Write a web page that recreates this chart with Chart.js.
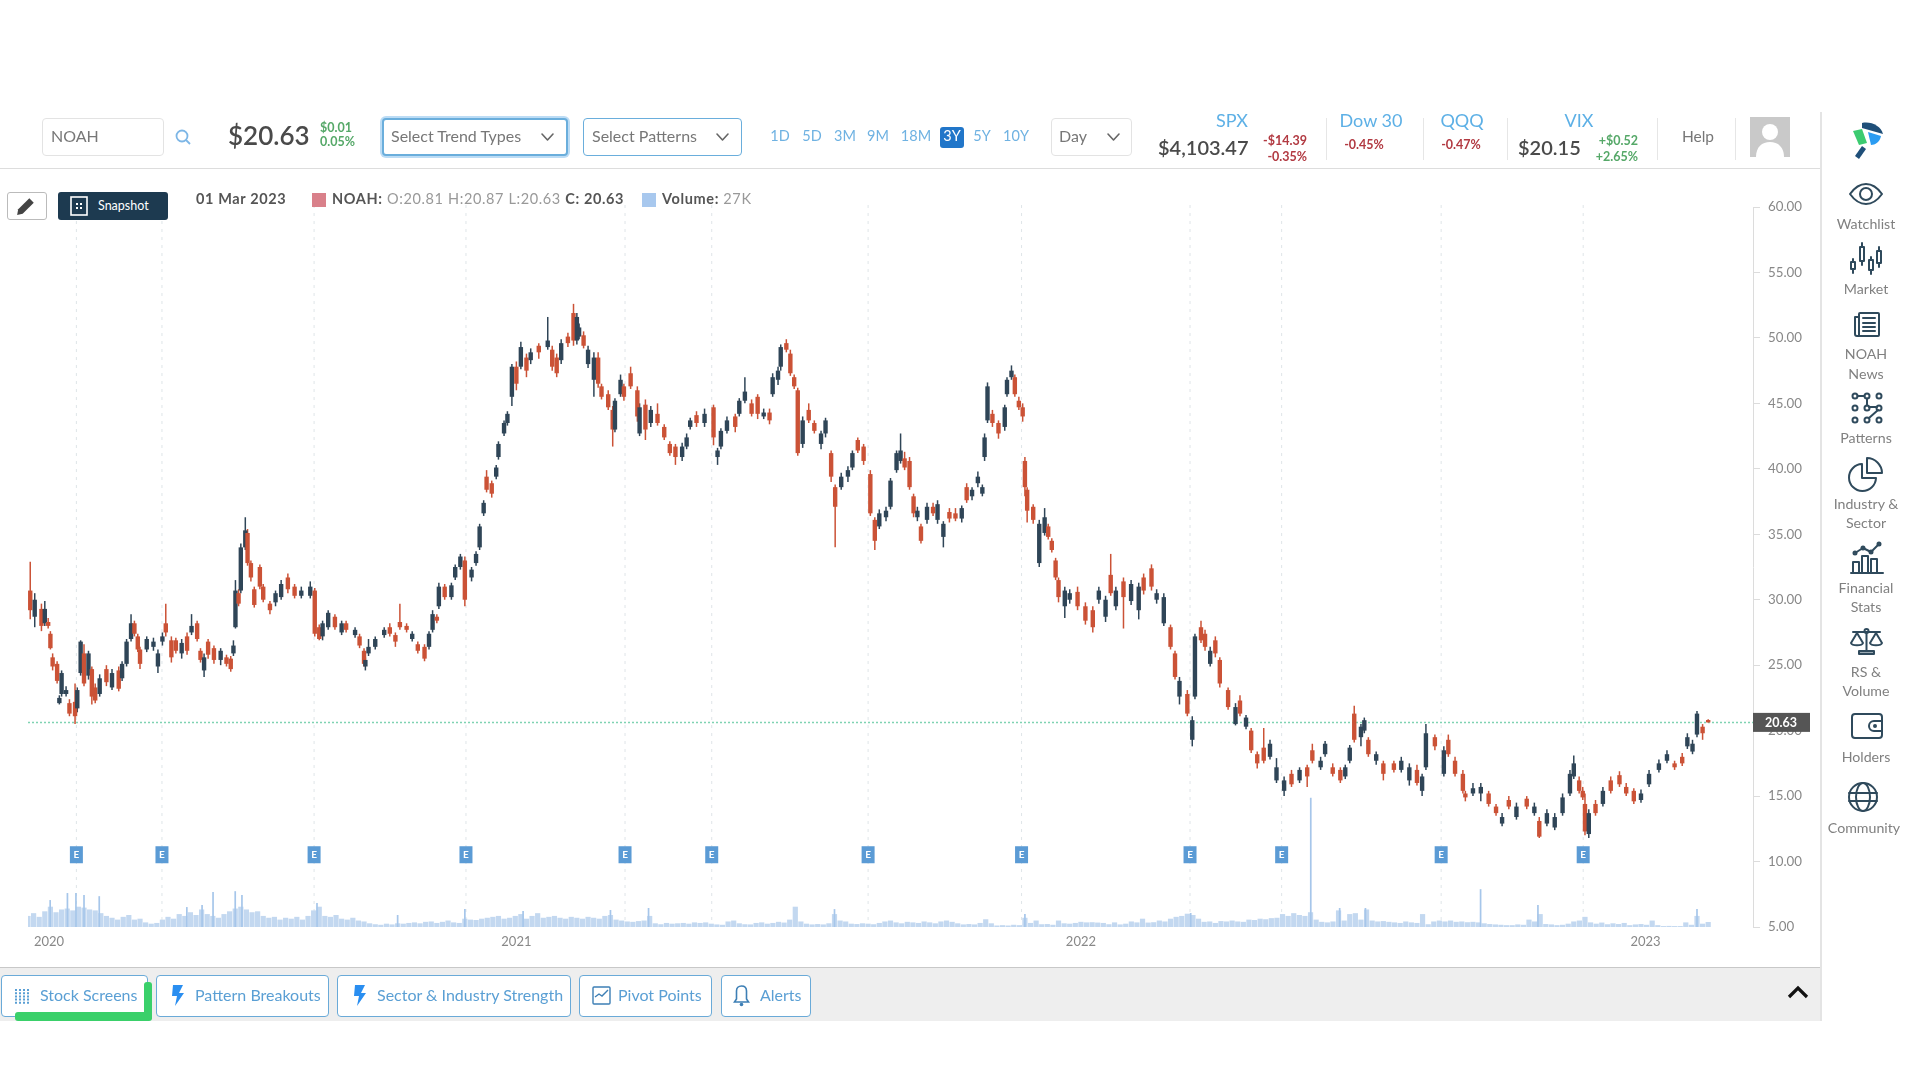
<!DOCTYPE html>
<html><head><meta charset="utf-8"><title>NOAH</title>
<script src="https://cdn.jsdelivr.net/npm/chart.js@4"></script>
<style>
html,body{margin:0;padding:0;background:#fff;width:1920px;height:1080px;overflow:hidden;font-family:Lato,"Open Sans",sans-serif;color:#777}
#stage{position:relative;width:1920px;height:1080px;overflow:hidden;filter:blur(.45px)}
canvas{position:absolute;left:0;top:170px}
.t,.c,.r{position:absolute;white-space:nowrap;z-index:3}
.t{transform:translateY(calc(-50% - 1.5px))}
.c{transform:translate(-50%,calc(-50% - 1.5px))}
.r{transform:translate(-100%,calc(-50% - 1.5px))}
.box{position:absolute;box-sizing:border-box;background:#fff;z-index:2}
.sel{border:1.5px solid #6aaedc;border-radius:4px}
.plain{border:1px solid #e3e3e3;border-radius:4px}
.sep{position:absolute;width:1px;top:118px;height:42px;background:#e6e6e6}
.lnk{color:#6fb2e2;font-size:14.5px}
.big{color:#4a4a4a;font-weight:600;font-size:20px}
.up{color:#55a868;font-size:12.5px;font-weight:700}
.dn{color:#b23a42;font-size:12.5px;font-weight:700}
.idx{color:#5db0e6;font-size:18px}
.side{color:#808080;font-size:14.2px}
.btn{position:absolute;top:975px;height:42px;box-sizing:border-box;background:#fff;border:1.5px solid #6aaad8;border-radius:4px;color:#5a9fd4;font-size:16px;z-index:3}
.btn span{position:absolute;top:50%;transform:translateY(calc(-50% - 1.5px));white-space:nowrap}
svg{position:absolute;z-index:3;overflow:visible}
.ic{fill:none;stroke:#2f4a5c;stroke-width:2;stroke-linecap:round;stroke-linejoin:round}
.ch{fill:none;stroke:#666;stroke-width:1.6;stroke-linecap:round;stroke-linejoin:round}
b{font-weight:700;color:#555}
.leg{font-size:14.5px;color:#999;letter-spacing:.62px}
</style></head><body><div id="stage">
<!-- top bar -->
<div style="position:absolute;left:0;top:168px;width:1820px;height:1px;background:#ddd"></div>
<div style="position:absolute;left:1820px;top:112px;width:2px;height:909px;background:#e4e4e4;z-index:4"></div>
<div class="box plain" style="left:42px;top:118px;width:122px;height:38px"></div>
<div class="t" style="left:51px;top:137px;font-size:16px;color:#777">NOAH</div>
<svg style="left:175px;top:129px" width="16" height="16" viewBox="0 0 16 16"><circle cx="7" cy="7" r="5.5" fill="none" stroke="#7db6e6" stroke-width="1.8"/><line x1="11" y1="11" x2="15" y2="15" stroke="#7db6e6" stroke-width="1.8"/></svg>
<div class="t" style="left:228px;top:136px;font-size:26px;font-weight:600;color:#4a4a4a">$20.63</div>
<div class="t up" style="left:320px;top:129px">$0.01</div>
<div class="t up" style="left:320px;top:143px">0.05%</div>
<div class="box sel" style="left:382px;top:118px;width:186px;height:38px;border-width:2px;box-shadow:0 0 0 2px #bcdcf5"></div>
<div class="t" style="left:391px;top:137px;font-size:16px">Select Trend Types</div>
<svg style="left:541px;top:133px" width="13" height="8" viewBox="0 0 13 8"><path class="ch" d="M1 1l5.5 6L12 1"/></svg>
<div class="box sel" style="left:583px;top:118px;width:159px;height:38px"></div>
<div class="t" style="left:592px;top:137px;font-size:16px">Select Patterns</div>
<svg style="left:716px;top:133px" width="13" height="8" viewBox="0 0 13 8"><path class="ch" d="M1 1l5.5 6L12 1"/></svg>
<div class="c lnk" style="left:780px;top:137px">1D</div>
<div class="c lnk" style="left:812px;top:137px">5D</div>
<div class="c lnk" style="left:845px;top:137px">3M</div>
<div class="c lnk" style="left:878px;top:137px">9M</div>
<div class="c lnk" style="left:916px;top:137px">18M</div>
<div class="box" style="left:940px;top:127px;width:24px;height:21px;background:#2176c9;border-radius:3px"></div>
<div class="c lnk" style="left:952px;top:137px;color:#fff">3Y</div>
<div class="c lnk" style="left:982px;top:137px">5Y</div>
<div class="c lnk" style="left:1016px;top:137px">10Y</div>
<div class="box plain" style="left:1051px;top:118px;width:81px;height:38px"></div>
<div class="t" style="left:1059px;top:137px;font-size:16px">Day</div>
<svg style="left:1107px;top:133px" width="13" height="8" viewBox="0 0 13 8"><path class="ch" d="M1 1l5.5 6L12 1"/></svg>
<div class="c idx" style="left:1232px;top:121px">SPX</div>
<div class="t big" style="left:1158px;top:148px">$4,103.47</div>
<div class="r dn" style="left:1307px;top:142px">-$14.39</div>
<div class="r dn" style="left:1307px;top:158px">-0.35%</div>
<div class="sep" style="left:1326px"></div>
<div class="c idx" style="left:1371px;top:121px">Dow 30</div>
<div class="c dn" style="left:1364px;top:146px">-0.45%</div>
<div class="sep" style="left:1423px"></div>
<div class="c idx" style="left:1462px;top:121px">QQQ</div>
<div class="c dn" style="left:1461px;top:146px">-0.47%</div>
<div class="sep" style="left:1507px"></div>
<div class="c idx" style="left:1579px;top:121px">VIX</div>
<div class="t big" style="left:1518px;top:148px">$20.15</div>
<div class="r up" style="left:1638px;top:142px">+$0.52</div>
<div class="r up" style="left:1638px;top:158px">+2.65%</div>
<div class="sep" style="left:1657px"></div>
<div class="c" style="left:1698px;top:137px;font-size:15.5px">Help</div>
<div class="sep" style="left:1735px"></div>
<svg style="left:1750px;top:117px" width="40" height="40" viewBox="0 0 40 40"><rect width="40" height="40" fill="#c9c9c9"/><circle cx="20" cy="15" r="8" fill="#fff"/><path d="M6 40c0-10 6-15 14-15s14 5 14 15z" fill="#fff"/></svg>
<!-- legend strip -->
<div class="box" style="left:7px;top:192px;width:40px;height:28px;border:1px solid #bbb;border-radius:3px"></div>
<svg style="left:16px;top:196px" width="20" height="20" viewBox="0 0 18 18"><path d="M1 17l1-5L12 2l4 4L6 16z" fill="#444"/></svg>
<div class="box" style="left:58px;top:192px;width:110px;height:28px;background:#1d3a50;border-radius:3px"></div>
<svg style="left:70px;top:197px" width="18" height="18" viewBox="0 0 18 18"><rect x="1" y="0" width="16" height="18" fill="none" stroke="#fff" stroke-width="1.6"/><rect x="6" y="6" width="2" height="2" fill="#fff"/><rect x="10" y="6" width="2" height="2" fill="#fff"/><rect x="6" y="10" width="2" height="2" fill="#fff"/><rect x="10" y="10" width="2" height="2" fill="#fff"/></svg>
<div class="t" style="left:98px;top:207px;font-size:12.5px;color:#fff">Snapshot</div>
<div class="t leg" style="left:196px;top:200px;font-weight:700;color:#555">01 Mar 2023</div>
<div class="box" style="left:312px;top:193px;width:14px;height:14px;background:#d9808a"></div>
<div class="t leg" style="left:332px;top:200px"><b>NOAH:</b> O:20.81 H:20.87 L:20.63 <b>C: 20.63</b></div>
<div class="box" style="left:642px;top:193px;width:14px;height:14px;background:#a8c8ee"></div>
<div class="t leg" style="left:662px;top:200px"><b>Volume:</b> 27K</div>
<!-- sidebar -->
<svg style="left:1852px;top:122px" width="32" height="38" viewBox="0 0 32 38"><path d="M10 1c9-2 19 3 21 11L10 6z" fill="#1f4f79"/><path d="M1 9l9-2 5 14-8 2z" fill="#3ccb70"/><path d="M16 10l13 4c-1 6-6 9-10 9z" fill="#2b9cf2"/><path d="M10 24l4 3-7 10-4-3z" fill="#1f4f79"/></svg>
<svg style="left:1849px;top:183px" width="34" height="22" viewBox="0 0 34 22"><path class="ic" d="M1 11C6 4 11 1 17 1s11 3 16 10c-5 7-10 10-16 10S6 18 1 11z"/><circle class="ic" cx="17" cy="11" r="6"/></svg>
<div class="c side" style="left:1866px;top:225px">Watchlist</div>
<svg style="left:1850px;top:242px" width="32" height="33" viewBox="0 0 32 33"><g class="ic"><rect x="1" y="20" width="4" height="7"/><line x1="3" y1="17" x2="3" y2="20"/><line x1="3" y1="27" x2="3" y2="31"/><rect x="10" y="5" width="4" height="14"/><line x1="12" y1="1" x2="12" y2="5"/><line x1="12" y1="19" x2="12" y2="23"/><rect x="19" y="18" width="4" height="10"/><line x1="21" y1="15" x2="21" y2="18"/><line x1="21" y1="28" x2="21" y2="32"/><rect x="27" y="9" width="4" height="12"/><line x1="29" y1="5" x2="29" y2="9"/><line x1="29" y1="21" x2="29" y2="25"/></g></svg>
<div class="c side" style="left:1866px;top:289.500px">Market</div>
<svg style="left:1854px;top:312px" width="26" height="25" viewBox="0 0 26 25"><g class="ic"><rect x="5" y="1" width="20" height="23" rx="1"/><path d="M5 5H1v17c0 1 1 2 2 2h2"/><line x1="9" y1="6" x2="21" y2="6"/><line x1="9" y1="11" x2="21" y2="11"/><line x1="9" y1="15" x2="21" y2="15"/><line x1="9" y1="19" x2="21" y2="19"/></g></svg>
<div class="c side" style="left:1866px;top:355px">NOAH</div>
<div class="c side" style="left:1866px;top:374.500px">News</div>
<svg style="left:1852px;top:393px" width="30" height="30" viewBox="0 0 30 30"><g class="ic"><circle cx="3" cy="3" r="2.5"/><circle cx="15" cy="3" r="2.5"/><circle cx="27" cy="3" r="2.5"/><circle cx="3" cy="15" r="2.5"/><circle cx="15" cy="15" r="2.5"/><circle cx="27" cy="15" r="2.5"/><circle cx="3" cy="27" r="2.5"/><circle cx="15" cy="27" r="2.5"/><circle cx="27" cy="27" r="2.5"/><path d="M5.5 3h7M15 5.5v7M17 14l8-0M17 25l9-8"/></g></svg>
<div class="c side" style="left:1866px;top:438.500px">Patterns</div>
<svg style="left:1849px;top:457px" width="34" height="34" viewBox="0 0 34 34"><g class="ic"><path d="M13 7a13.5 13.5 0 1 0 14 14H13z"/><path d="M18 1c8 0 15 7 15 15H18z"/></g></svg>
<div class="c side" style="left:1866px;top:505px">Industry &amp;</div>
<div class="c side" style="left:1866px;top:524px">Sector</div>
<svg style="left:1851px;top:542px" width="32" height="32" viewBox="0 0 32 32"><g class="ic"><rect x="2" y="20" width="6" height="11"/><rect x="11" y="14" width="6" height="17"/><rect x="20" y="17" width="6" height="14"/><line x1="0" y1="31" x2="32" y2="31"/><path d="M4 11l8-5 8 4 8-8"/><circle cx="4" cy="11" r="1.5"/><circle cx="12" cy="6" r="1.5"/><circle cx="20" cy="10" r="1.5"/><circle cx="28" cy="2" r="1.5"/></g></svg>
<div class="c side" style="left:1866px;top:589px">Financial</div>
<div class="c side" style="left:1866px;top:608px">Stats</div>
<svg style="left:1850px;top:628px" width="33" height="28" viewBox="0 0 33 28"><g class="ic"><circle cx="16.5" cy="3" r="2"/><line x1="3" y1="4" x2="30" y2="4"/><line x1="16.5" y1="5" x2="16.5" y2="22"/><path d="M9 26h15v-3H9z" fill="#9aa9b3"/><path d="M7 5L1 15c1 3 11 3 12 0z"/><path d="M26 5l-6 10c1 3 11 3 12 0z"/></g></svg>
<div class="c side" style="left:1866px;top:673px">RS &amp;</div>
<div class="c side" style="left:1866px;top:692px">Volume</div>
<svg style="left:1851px;top:713px" width="32" height="26" viewBox="0 0 32 26"><g class="ic"><rect x="1" y="1" width="30" height="24" rx="3"/><path d="M31 8H23a5 5 0 0 0 0 10h8"/><circle cx="24" cy="13" r="1"/></g></svg>
<div class="c side" style="left:1866px;top:757.500px">Holders</div>
<svg style="left:1848px;top:782px" width="30" height="30" viewBox="0 0 30 30"><g class="ic"><circle cx="15" cy="15" r="14"/><ellipse cx="15" cy="15" rx="7" ry="14"/><line x1="1" y1="11" x2="29" y2="11"/><line x1="1" y1="19" x2="29" y2="19"/></g></svg>
<div class="c side" style="left:1864px;top:829px">Community</div>
<!-- bottom bar -->
<div style="position:absolute;left:0;top:967px;width:1820px;height:54px;background:#eee;border-top:1.5px solid #c8c8c8;box-sizing:border-box;z-index:2"></div>
<div style="position:absolute;left:15px;top:1012px;width:137px;height:9px;background:#3ad06a;border-radius:3px;z-index:4"></div>
<div style="position:absolute;left:144px;top:982px;width:8px;height:38px;background:#3ad06a;border-radius:3px;z-index:4"></div>
<div class="btn" style="left:1px;width:147px"><span style="left:38px">Stock Screens</span></div>
<svg style="left:14px;top:988px" width="16" height="16" viewBox="0 0 16 16"><g stroke="#5a9fd4" stroke-width="2" stroke-dasharray="2 1.2"><line x1="2" y1="1" x2="2" y2="16"/><line x1="6" y1="1" x2="6" y2="16"/><line x1="10" y1="1" x2="10" y2="16"/><line x1="14" y1="1" x2="14" y2="16"/></g></svg>
<div class="btn" style="left:156px;width:173px"><span style="left:38px">Pattern Breakouts</span></div>
<svg style="left:171px;top:985px" width="14" height="21" viewBox="0 0 14 21"><path d="M2 0h10L8 8h5L4 21l2-10H1z" fill="#2a8ef0"/></svg>
<div class="btn" style="left:337px;width:234px"><span style="left:39px">Sector &amp; Industry Strength</span></div>
<svg style="left:353px;top:985px" width="14" height="21" viewBox="0 0 14 21"><path d="M2 0h10L8 8h5L4 21l2-10H1z" fill="#2a8ef0"/></svg>
<div class="btn" style="left:579px;width:133px"><span style="left:38px">Pivot Points</span></div>
<svg style="left:592px;top:986px" width="19" height="19" viewBox="0 0 19 19"><rect x="1" y="1" width="17" height="17" rx="1" fill="none" stroke="#3d7fb5" stroke-width="1.4"/><path d="M3 11l4-3 3 2 6-6" fill="none" stroke="#3d7fb5" stroke-width="1.4"/></svg>
<div class="btn" style="left:721px;width:90px"><span style="left:38px">Alerts</span></div>
<svg style="left:733px;top:985px" width="17" height="22" viewBox="0 0 17 22"><path d="M8.5 1c3 0 5 2 5 5v8l2 3H1.500l2-3V6c0-3 2-5 5-5z" fill="none" stroke="#3d7fb5" stroke-width="1.6"/><circle cx="8.500" cy="19.500" r="1.800" fill="#3d7fb5"/></svg>
<svg style="left:1787px;top:986px" width="22" height="12" viewBox="0 0 22 12"><path d="M2 11l9-9 9 9" fill="none" stroke="#111" stroke-width="3.200"/></svg>
<canvas id="chart" width="1820" height="797"></canvas>
</div>
<script>
const days=[1,3,6,7.5,9,10,11,13,14,15,17,18.5,21,22,23.5,25,27,28.5,30,32,
35,37.5,40.5,42,44,46,47.5,49,50,53,56,58,60,61.5,64,66,68.6,71,73,75.5,
77,78.6,80.4,83,86,88.6,90.5,91.7,92.6,94,95,97,98,99.5,101,103.5,105,108,110.5,113,
116,119,122,126,128,130,131.5,134,137,140,142,146,148,150,150.6,152,155,159,161.5,164,
166,169,171.5,174,177,179,180.6,182.5,183.4,186,189,190.7,193,195,198,200,201.6,203.4,204.7,207,
209,210,212.5,214,216,218,220,222.5,224.4,228,232,234,236,238,241,243.5,245,246,248,250,
252.6,254.5,256,259,261,262,264.5,266,269,272,273,275.6,278,281,284,286.5,289,292,294,295.6,
298.4,302,306,307.8,309.3,312,315.7,317.5,320,323,325.7,328.4,331,332.4,334.8,336,338.5,340.3,342,343.6,
345.8,348.5,351,354,356,358.5,360.3,363,366,368,370.4,373,376,378,380,383,385,387.7,389.5,391.3,
393.5,395.3,397,398.6,401.3,404,406,408.6,411.3,414,416.8,419,421.4,424,426,427,428.3,430.5,433.2,436,
437,439,440.5,442.3,444,445,446,448.7,451.4,453.8,455.4,457,458.7,460,462.8,465,468.5,472,475.3,478,
481,483.3,485.6,489,492.4,495.8,498,501.5,503.8,507,510,512,514,517.5,519.7,520.9,523.6,525.4,527.7,530,
532,535.7,539,541,543.7,546,548.7,551.6,554.4,557.3,560.7,564,567.6,571,573.3,577,579,582.4,585.8,588,
590,592,595,596.5,598.3,601.8,605,609.7,613,616.6,620,622.3,624,628,632,634,637,640.5,641.6,645,
648.5,652,655.3,658,661,664.4,669,672.4,674.6,678,681.5,685,688.3,690,692.4,694,695,696.7,699.7,703,
706.5,710.4,713.4,716.8,720,723.6,728,731.6,735,738.4,740.7,743,745,747.5,750];
const opens=[30.7,28.7,29.3,28.2,28.3,27.4,25.6,25.1,22.1,22.8,22.8,22.1,22.2,21.7,24.4,25.9,24.2,24.7,23.3,22.8,
24.7,23.3,24.6,24,25.1,27,28.2,27.2,26.2,26.2,26.4,24.9,26.8,28.2,26.9,26.9,25.9,27.2,27.5,28.2,
26.1,24.6,26.8,26.3,25.4,25.6,25.5,25.9,27.9,30.5,30.7,34,35.1,32.8,30.8,32.5,31,29.7,29.8,30.2,
31.7,31,30.3,30.3,30.7,27.9,27.2,27.9,28.7,27.5,28.2,27.3,27.2,26.1,24.9,25.9,26.4,27.3,27.9,27.3,
28.3,28,27,26.6,26.4,26.4,27.7,28.7,29.5,31,30.2,31.7,32.5,33,31.7,32.8,34,36.6,39.4,38.9,
39.4,40.9,42.7,43.5,45.5,47.8,47.8,48.5,48.3,49.4,49.3,49.1,48.5,48.3,50.1,51.9,49.8,50.1,50.2,48,
46.8,48.5,46.3,45.7,44.5,43,45.7,46.3,47.3,46,42.7,44.9,43.5,44.2,43.2,41.9,41.7,40.9,41.7,43.2,
44.1,43.5,44.7,40.9,41.7,42.9,44,44.2,45.2,45,45.5,44,44.3,45.7,46.8,47.8,49.6,48.8,47,46,
41.9,44.5,43.5,41.9,42.7,41.2,38.6,38.6,39.4,40.1,42.2,41.7,39.6,36.1,35.6,36.3,37.1,39.9,40.6,40.8,
40.6,37.9,36.3,35.6,36.1,37.1,36.1,34.8,36.7,36.6,36.2,38.6,37.9,38.9,38.1,40.9,43.7,44.2,43.5,43.2,
45.7,47,47,45.2,44.7,40.6,38.4,37.1,32.8,35.1,35.6,34.5,33,31.5,29.5,30,30.6,29.5,29.2,30,
28.7,31.9,29.5,31.4,29.9,29.2,31.7,32.4,30,28.2,27.9,25.9,22.6,22.8,19.3,22.6,27.9,27.4,25.1,26.9,
25.4,23.1,20.5,22.3,20.3,20,18.2,18.7,18,16.2,15.4,16.7,16.2,17.2,18.5,17.2,18.2,17.2,17,16.5,
17.7,21.3,19.5,20,19.3,17.7,17.5,17.5,17,16.2,17,15.4,17.2,19.5,16.7,19.3,17.7,16.7,15.2,15.2,
15.2,15.2,14.2,12.9,14.7,13.4,14.8,13.7,13.1,12.9,12.6,13.7,15.2,16.5,16.2,15.4,14.4,12.1,14.4,14.4,
16.2,16.6,15.7,15.4,14.7,15.9,17,17.7,17.5,18,18.8,18.4,19.7,20.3,20.81];
const closes=[29.2,30,28,29.3,28,26.3,24.9,23.8,22.5,24.4,23.1,21.3,21.1,23.1,26.8,23.6,25.9,22.6,22.3,24,
23.7,24.4,23.2,25.1,26.8,28.2,27.4,26.2,25.1,27,26.8,25.9,27.2,27.5,25.6,26.1,26.7,26.1,28,27,
25.4,25.6,25.8,25.4,26.1,25.1,24.7,26.5,30.7,29.7,34,35.3,32.8,31.7,29.6,31,30,29.2,30.5,31.2,
30.8,30.3,30.7,31,27.4,27,28.2,29,27.9,28.2,27.7,27.7,26.5,25.1,25.4,26.4,27,27.7,27.4,26.8,
27.9,27.7,27.4,26.1,25.5,27.4,28.9,28.4,31,30.2,31.1,32.5,33.3,30,32.3,33.5,35.6,37.4,38.4,38.1,
40.1,41.9,43.5,44.2,47.8,46.5,49.3,47.5,48.9,48.9,49.8,47.8,47.3,49.6,49.6,49.8,51.6,50.8,49.4,49.1,
48.5,46.5,45.5,44.7,43,45.2,46.8,45.5,46.3,44,44.7,43,44.5,43.5,42.4,41.2,40.9,41.7,42.4,43.7,
43.5,44.2,42.4,41.4,42.9,43.7,43.2,45.2,45.9,44.2,44.2,44.3,43.7,47,47.5,49.3,49.1,47.3,46.3,41.2,
43.7,43.7,42.9,42.7,43.7,39.4,37.1,39.4,39.9,41.2,41.4,40.6,36.6,34.5,36.6,36.8,39.1,41.2,41.4,40.1,
38.6,36.6,36.8,34.5,37.1,36.6,37.3,35.8,36.2,36.2,37,37.6,38.4,39.4,38.6,42.4,46.3,43.5,42.7,44.7,
46.8,47.5,45.7,44.7,44,38.6,36.8,36.1,35.8,36.3,34.8,33.8,31.7,30.2,30.7,30.5,29.5,28.4,27.9,30.7,
30,30.5,30.7,30.2,31.2,31,30.7,31,30.5,30.2,26.4,24.1,23.8,21.3,20.8,27.2,26.9,26.4,26.1,25.9,
23.6,21.8,21.8,21.3,21,18.5,17.5,17.7,19,17.2,16.2,15.9,17,16.5,17.7,17.7,19,16.7,16.2,17.2,
18.7,19.3,20.3,20.8,18.2,18.2,16.7,17,17.7,17.2,16,16.5,19.8,18.8,18.5,18.2,16.7,15.4,14.9,15.6,
15.7,14.4,13.7,13.4,14.2,14.2,14.2,14.2,11.9,13.7,13.4,14.9,16.7,17.5,15.4,14.9,12.3,13.7,13.7,15.4,
15.4,15.9,15.2,14.6,15.2,16.7,17.5,18.2,17.2,17.5,19.5,19,21.3,19.8,20.63];
const highs=[32.9,30.5,29.7,29.9,28.6,27.6,25.9,25.3,22.7,24.6,23.4,22.4,23.6,23.3,26.9,26.6,26.1,24.9,23.6,24.3,
25,24.7,24.9,25.3,27,28.9,28.4,27.4,26.4,27.2,27.1,26.2,27.5,29.7,27.2,27.1,27,27.5,28.9,28.4,
26.3,25.9,27,26.5,26.3,25.8,25.7,26.9,31.5,30.8,34.3,36.3,35.4,33,31,32.7,31.2,29.9,30.7,31.5,
32,31.2,31,31.4,30.9,28.1,28.4,29.2,28.9,28.4,28.4,27.9,27.4,26.3,25.6,27,27.2,27.9,28.2,27.5,
29.7,28.2,27.6,26.8,26.6,27.6,29.2,28.9,31.3,31.2,31.3,32.7,33.5,33.3,32.5,33.7,35.8,37.6,39.9,39.1,
40.3,42.1,43.7,44.4,48,48.2,49.7,48.8,49.2,49.6,51.6,49.4,48.8,49.9,50.4,52.6,51.9,51.1,50.5,49.4,
48.9,48.9,46.5,46,44.8,45.4,47.2,46.5,47.8,46.3,45,45.3,44.8,45,43.4,42.1,41.9,42,42.7,43.9,
44.4,44.6,44.9,41.6,43.1,44,44.2,45.4,47,45.3,45.7,44.6,44.6,47.3,47.8,49.5,49.9,49.1,47.2,46.2,
44,45,43.7,42.9,43.9,41.4,38.8,39.7,40.2,41.4,42.4,41.9,39.9,36.3,36.9,37.1,39.3,41.4,42.7,41.3,
40.9,38.1,37.1,35.8,37.4,37.4,37.6,36,37,37,37.2,38.9,38.6,39.8,38.8,42.7,46.6,44.5,43.7,44.9,
47,47.9,47.2,45.5,45,40.9,38.6,37.3,36.1,37,35.8,34.7,33.2,31.7,31,30.8,31,29.8,29.5,31,
30.3,33.5,31,31.7,31.5,31.3,32,32.7,30.8,30.5,28.1,26.1,24.1,23.1,21.1,27.4,28.4,27.7,26.4,27.2,
25.6,23.3,22.1,22.7,21.2,20.2,18.4,20.2,19.3,17.9,16.5,17,17.2,17.4,19,18,19.2,17.5,17.2,17.4,
18.9,21.9,20.5,21,19.5,18.4,17.7,17.7,18,17.5,17.4,16.7,20.5,19.7,18.8,19.7,18,17,15.4,16,
16,15.4,14.4,13.7,15,14.5,15,14.5,13.4,14,13.7,15.2,17,18.1,16.5,15.7,15.2,14,14.7,15.7,
16.5,16.9,16,15.6,15.5,17,17.8,18.5,17.7,18.3,19.8,19.3,21.5,20.5,20.87];
const lows=[28.5,27.9,27.6,28,27.8,26.2,24.6,23.6,22,22.6,22.6,21.1,20.5,21.4,24.2,23.4,23.9,22,22.1,22.6,
23.4,23.1,23,23.8,24.9,26.8,27.2,26,24.7,26,26.1,24.4,26.5,27.2,25.2,25.9,25.5,25.8,27.3,26.8,
25.2,24.1,25.5,25.1,25,24.9,24.5,25.7,27.8,29.5,30.5,33.8,32.6,31.4,29.4,30.8,29.8,28.9,29.5,30,
30.5,30.1,30.1,30.1,27.2,26.9,26.9,27.7,27.7,27.3,27.5,27.1,26.3,24.9,24.6,25.7,26.2,27.1,27.2,26.4,
27.7,27.5,26.8,25.9,25.3,26.2,27.5,28.2,29.3,30,30,31.5,32.3,29.5,31.4,32.6,33.8,36.4,38.2,37.8,
39.2,40.7,42.5,43.3,44.8,46,47.6,47,48,48.4,49.1,47.5,47,48,49.3,49.4,49.5,49.9,49.2,47.7,
45.5,46.2,45.3,44.5,41.7,42.8,45.5,45.2,46.1,43.6,42.5,42.2,43.2,43.3,42.2,41,40.3,40.6,41.5,43,
43.2,43.2,41.8,40.3,41.5,42.7,42.8,44,45,44,43.8,43.8,43.4,45.5,46.4,47.5,48.9,47.1,46.1,41,
41.6,43.5,42.7,41.5,42.4,39,34,38.4,39,39.9,41.2,40.3,36.4,33.8,35.4,36,36.9,39.7,40.4,39.9,
38.4,36.3,36,34.3,35.8,36.4,35.8,34,35.9,36,35.9,37.4,37.6,38.6,37.9,40.6,43.5,43.2,42.3,42.9,
45.5,46.8,45.5,44.5,43.6,37.9,35.9,35.8,32.5,34.9,34.6,33.6,31.5,29.8,28.6,29.7,29.2,28.1,27.5,29.7,
28.3,30.3,29.2,27.8,29.6,28.5,30.4,30.7,29.7,28,26.2,23.9,22,21.1,18.8,22.4,26.7,26.1,24.9,25.6,
23.3,21.6,20.4,21.1,20.1,18.3,17.1,17.5,17.8,16,15,15.7,16,15.7,17.5,17,18,16.5,16,16.3,
17.5,19.1,18.8,19.8,18,17.4,16.2,16.8,16.8,15.8,15.8,15,17,18.5,16.5,18,16.5,15.2,14.6,15,
14.6,14.2,13.5,12.7,14,13.2,14,13.5,11.8,12.7,12.4,13.5,15,16.3,15.2,14.7,12,11.8,13.5,14.2,
15.2,15.7,15,14.4,14.5,15.7,16.8,17.5,17,17.3,18.6,18.2,19.5,19.3,20.63];
const VOL_STEP=2.5;
const volumes=[60,75,55,85,110,80,95,100,90,110,105,95,90,75,60,50,40,55,65,40,45,25,18,22,40,55,45,70,60,80,65,95,70,60,50,70,85,100,110,95,80,85,60,50,55,40,50,45,55,40,60,90,110,60,55,65,45,40,50,35,30,20,15,12,18,14,20,18,22,25,20,28,30,22,28,35,25,22,45,40,38,45,50,55,60,45,50,60,70,45,60,75,50,55,60,50,45,55,50,45,55,50,45,60,65,40,35,30,28,32,35,60,20,15,22,18,20,22,18,25,22,25,18,14,12,30,35,20,15,14,22,25,18,22,28,24,40,110,30,18,14,16,14,20,70,35,30,18,16,20,18,15,22,30,35,25,20,28,25,22,30,25,20,30,35,28,20,14,16,14,22,42,20,8,10,8,12,10,50,22,35,15,16,12,35,20,18,22,28,25,26,24,22,15,25,14,18,30,25,45,24,26,35,30,45,55,60,72,65,45,28,30,22,32,30,35,30,28,40,38,45,42,48,50,70,60,75,65,60,80,40,28,25,30,90,35,70,75,40,95,35,30,32,28,25,22,30,25,22,70,15,30,35,30,35,28,30,26,28,25,20,16,14,12,10,10,14,12,40,30,70,16,14,10,12,18,30,35,55,25,18,24,15,20,16,22,10,14,16,12,35,10,5,6,5,5,25,12,60,18,27];
const spikeDays=[9.9,17.6,21.4,25,31.8,70.9,77.7,82.6,92.5,95.5,129,165,195,221,260,277,360,445,519,572.6,585.5,597,648.4,674,745];
const spikeVolumes=[146,184,184,173,167,108,119,189,194,173,130,65,97,86,92,103,97,70,76,700,103,103,205,119,97];
const earningsDays=[21.6,59.8,127.7,195.5,266.5,305.2,375,443.5,518.7,559.6,630.8,694.2];
const earningsBand=[9.87,11.17];
const yearDays=[9.4,218,470,722];
const yearLabels=["2020","2021","2022","2023"];
const lastPrice=20.63;
const DARK="#2f4557",RED="#cb5236";
const colors=opens.map((o,i)=>closes[i]>=o?DARK:RED);
const bar=(extra)=>Object.assign({grouped:false,barPercentage:1000,borderSkipped:false,borderWidth:0},extra);
const overlay={id:"overlay",
 beforeDatasetsDraw(c){const x=c.scales.x,y=c.scales.y,g=c.ctx;g.save();g.strokeStyle="#dfe5e8";g.lineWidth=1;g.setLineDash([3,5]);
  earningsDays.forEach(d=>{const p=x.getPixelForValue(d);g.beginPath();g.moveTo(p,y.top-2);g.lineTo(p,y.bottom);g.stroke();});g.restore();},
 afterDatasetsDraw(c){const x=c.scales.x,y=c.scales.y,g=c.ctx;g.save();g.textAlign="center";g.textBaseline="middle";
  g.fillStyle="#fff";g.font="bold 10px Lato";const m=y.getPixelForValue((earningsBand[0]+earningsBand[1])/2);
  earningsDays.forEach(d=>g.fillText("E",x.getPixelForValue(d),m));
  const t=y.getPixelForValue(lastPrice);g.fillStyle="#555";g.fillRect(x.right,t-9.5,57,19);
  g.fillStyle="#fff";g.font="bold 12.5px Lato";g.fillText(lastPrice.toFixed(2),x.right+28,t+.5);g.restore();}};
new Chart(document.getElementById("chart"),{type:"bar",
 data:{datasets:[
  bar({label:"Volume",yAxisID:"yVol",order:6,maxBarThickness:5.2,backgroundColor:"#c3d8f0",data:volumes.map((v,i)=>({x:i*VOL_STEP,y:v}))}),
  bar({label:"Volume spikes",yAxisID:"yVol",order:5,maxBarThickness:1.7,backgroundColor:"#a6c6ea",data:spikeDays.map((d,i)=>({x:d,y:spikeVolumes[i]}))}),
  bar({label:"Earnings",order:4,maxBarThickness:13,backgroundColor:"#5b9bd5",data:earningsDays.map(d=>({x:d,y:earningsBand}))}),
  {type:"line",label:"Last",order:3,data:[{x:0,y:lastPrice},{x:770,y:lastPrice}],borderColor:"#7fd3b2",borderWidth:1.5,borderDash:[2,2],pointRadius:0},
  bar({label:"Wick",order:2,maxBarThickness:1.5,backgroundColor:colors,data:days.map((d,i)=>({x:d,y:[lows[i],highs[i]]}))}),
  bar({label:"NOAH",order:1,maxBarThickness:4.4,backgroundColor:colors,data:days.map((d,i)=>({x:d,y:[opens[i],closes[i]]}))})
 ]},
 options:{responsive:false,animation:false,devicePixelRatio:1,
  layout:{padding:{left:28,top:37,right:0,bottom:0}},
  plugins:{legend:{display:false},tooltip:{enabled:false}},
  scales:{
   x:{type:"linear",min:0,max:770,offset:false,grid:{display:false},border:{display:false},
    afterBuildTicks(s){s.ticks=yearDays.map(v=>({value:v}));},
    afterFit(s){s.height=40;},
    ticks:{autoSkip:false,maxRotation:0,padding:-1,color:"#888",font:{family:"Lato",size:13},callback(v){return yearLabels[yearDays.indexOf(v)]??"";}}},
   y:{position:"right",min:5,max:60,afterFit(s){s.width=67;},
    grid:{drawOnChartArea:false,drawTicks:true,tickLength:7,color:"#dcdcdc"},border:{color:"#dcdcdc"},
    ticks:{stepSize:5,padding:8,color:"#888",font:{family:"Lato",size:13.3},callback(v){return v.toFixed(2);}}},
   yVol:{display:false,position:"right",min:0,max:3900}
  }},
 plugins:[overlay]});
</script>
</body></html>
